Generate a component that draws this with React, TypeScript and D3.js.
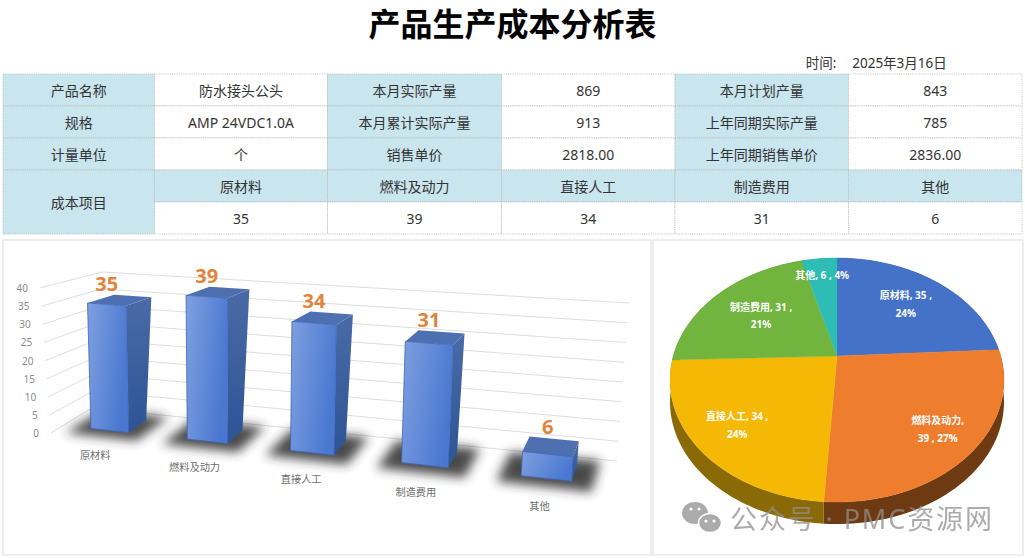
import React, { useEffect, useRef } from "react";
import * as d3 from "d3";

// table content
const infoRows = [
  ["产品名称", "防水接头公头", "本月实际产量", "869", "本月计划产量", "843"],
  ["规格", "AMP 24VDC1.0A", "本月累计实际产量", "913", "上年同期实际产量", "785"],
  ["计量单位", "个", "销售单价", "2818.00", "上年同期销售单价", "2836.00"],
];
const costHeader = "成本项目";

// chart data
const categories = ["原材料", "燃料及动力", "直接人工", "制造费用", "其他"];
const costs = [35, 39, 34, 31, 6];
const percentLabels = ["24%", "27%", "24%", "21%", "4%"];
const yTicks = [0, 5, 10, 15, 20, 25, 30, 35, 40];
const pieColors = ["#4472C8", "#EE7D2E", "#F5B905", "#71B53F", "#2DBDB4"];
const pieSideColors = ["#2A4578", "#6E3A12", "#8A6A06", "#44702A", "#1C756F"];

// pie label layout: radius (fraction of rim) and where each label wraps
const pieLabelRadius = [0.67, 0.78, 0.76, 0.62, 0.81];
const pieLabelLines = (i: number) => {
  const name = categories[i];
  const v = costs[i];
  const pct = percentLabels[i];
  if (i === 1) return [`${name},`, `${v} , ${pct}`];
  if (i === 4) return [`${name}, ${v} , ${pct}`];
  return [`${name}, ${v} ,`, pct];
};

const FONT = '"Noto Sans", "Noto Sans CJK SC", sans-serif';
const W = 1025;
const H = 558;
const colEdges = [3, 154.5, 327.5, 501.5, 675, 848.5, 1022];
const CELL_BLUE = "#C9E5EE";

type Pt = [number, number];
const lerp = (a: Pt, b: Pt, t: number): Pt => [a[0] + (b[0] - a[0]) * t, a[1] + (b[1] - a[1]) * t];

// the 3D box of the bar chart, as eight projected corners
const FL0: Pt = [51, 433];
const FR0: Pt = [608, 496];
const BL0: Pt = [92, 408];
const BR0: Pt = [617, 461];
const FL40: Pt = [40, 288];
const FR40: Pt = [618, 328];
const BL40: Pt = [102, 272];
const BR40: Pt = [629, 303];
const PERSPECTIVE = 1.2;

const vScale = d3.scaleLinear().domain([0, 40]).range([0, 1]);
const project = (u: number, d: number, v: number): Pt => {
  const t = u / (u + PERSPECTIVE * (1 - u));
  const bottom = lerp(lerp(FL0, FR0, t), lerp(BL0, BR0, t), d);
  const top = lerp(lerp(FL40, FR40, t), lerp(BL40, BR40, t), d);
  return lerp(bottom, top, vScale(v));
};

// pie disc seen in perspective
const PIE_CX = 837;
const PIE_CY = 356;
const PIE_A = 163.7;
const PIE_B = 117.3;
const PIE_P = 0.197;
const PIE_DEPTH = 22;
const piePoint = (theta: number, r = 1): Pt => {
  const X = Math.sin(theta) * r;
  const Y = -Math.cos(theta) * r;
  const w = 1 - PIE_P * Y;
  return [PIE_CX + (PIE_A * X) / w, PIE_CY + (PIE_B * Y) / w];
};
const rim = (a0: number, a1: number) =>
  d3.range(0, 61).map((i) => piePoint(a0 + ((a1 - a0) * i) / 60));

export default function App() {
  const svgRef = useRef<SVGSVGElement>(null);

  useEffect(() => {
    if (!svgRef.current) return;
    const svg = d3.select(svgRef.current);
    svg.selectAll("*").remove();
    svg.style("font-family", FONT);

    const defs = svg.append("defs");
    const grad = (id: string, x2: number, y2: number, c0: string, c1: string) => {
      const g = defs.append("linearGradient").attr("id", id).attr("x1", 0).attr("y1", 0).attr("x2", x2).attr("y2", y2);
      g.append("stop").attr("offset", "0%").attr("stop-color", c0);
      g.append("stop").attr("offset", "100%").attr("stop-color", c1);
    };
    grad("barFront", 1, 0.35, "#7FA0E0", "#4A78D0");
    grad("barSide", 0, 1, "#4A6AA6", "#2D5496");
    defs.append("filter").attr("id", "soft").attr("x", "-50%").attr("y", "-80%").attr("width", "200%").attr("height", "260%")
      .append("feGaussianBlur").attr("stdDeviation", 5.5);

    svg.append("rect").attr("width", W).attr("height", H).attr("fill", "#fff");

    // title and date
    svg.append("text").attr("x", 512.5).attr("y", 23).attr("text-anchor", "middle").attr("dominant-baseline", "central")
      .attr("font-size", 32).attr("font-weight", 700).attr("fill", "#000").text("产品生产成本分析表");
    svg.append("text").attr("x", 821).attr("y", 63).attr("text-anchor", "middle").attr("dominant-baseline", "central")
      .attr("font-size", 13.5).attr("fill", "#333").text("时间:");
    svg.append("text").attr("x", 899.5).attr("y", 63).attr("text-anchor", "middle").attr("dominant-baseline", "central")
      .attr("font-size", 13.5).attr("fill", "#333").text("2025年3月16日");

    // table
    const rowY = d3.scaleLinear().domain([0, 5]).range([74, 234]);
    const table = svg.append("g");
    const cell = (c0: number, c1: number, r0: number, r1: number, text: string, fill: string) => {
      const x0 = colEdges[c0];
      const x1 = colEdges[c1];
      const y0 = rowY(r0);
      const y1 = rowY(r1);
      table.append("rect").attr("x", x0).attr("y", y0).attr("width", x1 - x0).attr("height", y1 - y0)
        .attr("fill", fill).attr("stroke", "#b4b4b4").attr("stroke-width", 0.8).attr("stroke-dasharray", "1 1.2");
      table.append("text").attr("x", (x0 + x1) / 2).attr("y", (y0 + y1) / 2).attr("text-anchor", "middle")
        .attr("dominant-baseline", "central").attr("font-size", 14).attr("fill", "#333").text(text);
    };
    infoRows.forEach((row, r) => {
      row.forEach((text, c) => cell(c, c + 1, r, r + 1, text, c % 2 === 0 ? CELL_BLUE : "#fff"));
    });
    cell(0, 1, 3, 5, costHeader, CELL_BLUE);
    categories.forEach((name, i) => {
      cell(i + 1, i + 2, 3, 4, name, CELL_BLUE);
      cell(i + 1, i + 2, 4, 5, String(costs[i]), "#fff");
    });

    // panels
    [[3, 651], [653, 1023]].forEach(([x0, x1]) => {
      svg.append("rect").attr("x", x0).attr("y", 240).attr("width", x1 - x0).attr("height", 315)
        .attr("fill", "#fff").attr("stroke", "#dcdcdc").attr("stroke-width", 1);
    });

    // ---- 3D bars ----
    const bars = svg.append("g");
    const poly = (pts: Pt[]) => pts.map((p) => p.join(",")).join(" ");

    yTicks.forEach((v) => {
      const pts = [project(0, 0, v), project(0, 1, v), project(1, 1, v)];
      bars.append("polyline").attr("points", poly(pts)).attr("fill", "none").attr("stroke", "#dedede").attr("stroke-width", 1);
      bars.append("text").attr("x", pts[0][0] - 12).attr("y", pts[0][1]).attr("text-anchor", "end")
        .attr("dominant-baseline", "central").attr("font-size", 10).attr("fill", "#8c8c8c").text(v);
    });

    const band = d3.scaleBand<string>().domain(categories).range([0, 1]).paddingInner(0.6).paddingOuter(0.3);
    const D_FRONT = 0.3;
    const D_BACK = 0.77;

    // floor shadows first, so no bar is covered by a neighbour's shadow
    categories.forEach((name) => {
      const u0 = band(name)! - 0.034;
      const u1 = band(name)! + band.bandwidth() + 0.034;
      bars.append("polygon")
        .attr("points", poly([project(u0, 0.06, 0), project(u1, 0.06, 0), project(u1, 0.95, 0), project(u0, 0.95, 0)]))
        .attr("fill", "#2a2a2a").attr("opacity", 0.85).attr("filter", "url(#soft)");
    });

    categories.forEach((name, i) => {
      const v = costs[i];
      const u0 = band(name)!;
      const u1 = u0 + band.bandwidth();
      const g = bars.append("g");
      g.append("polygon")
        .attr("points", poly([project(u1, D_FRONT, 0), project(u1, D_BACK, 0), project(u1, D_BACK, v), project(u1, D_FRONT, v)]))
        .attr("fill", "url(#barSide)");
      g.append("polygon")
        .attr("points", poly([project(u0, D_FRONT, v), project(u1, D_FRONT, v), project(u1, D_BACK, v), project(u0, D_BACK, v)]))
        .attr("fill", "#4F70B0");
      g.append("polygon")
        .attr("points", poly([project(u0, D_FRONT, 0), project(u1, D_FRONT, 0), project(u1, D_FRONT, v), project(u0, D_FRONT, v)]))
        .attr("fill", "url(#barFront)").attr("stroke", "#3D66B8").attr("stroke-width", 0.8);

      const uc = (u0 + u1) / 2;
      const labelX = project(uc, D_FRONT, v)[0];
      const labelY = project(uc, D_BACK, v)[1] - 5;
      g.append("text").attr("x", labelX).attr("y", labelY).attr("text-anchor", "middle")
        .attr("font-size", 20).attr("font-weight", 700).attr("fill", "#E0843C").text(v);

      const foot = project(uc, 0, 0);
      g.append("text").attr("x", foot[0] - 3).attr("y", foot[1] + 17).attr("text-anchor", "middle")
        .attr("dominant-baseline", "central").attr("font-size", 10.2).attr("fill", "#6e6e6e").text(name);
    });

    // ---- 3D pie ----
    const pie = svg.append("g");
    const line = d3.line<Pt>();
    const slices = d3.pie<number>().sort(null).value((d) => d)(costs);

    slices.forEach((s, i) => {
      const top = rim(s.startAngle, s.endAngle);
      const below = top.map(([x, y]): Pt => [x, y + PIE_DEPTH]).reverse();
      pie.append("path").attr("d", line([...top, ...below])! + "Z").attr("fill", pieSideColors[i]);
    });
    slices.forEach((s, i) => {
      pie.append("path").attr("d", line([[PIE_CX, PIE_CY], ...rim(s.startAngle, s.endAngle)])! + "Z")
        .attr("fill", pieColors[i]).attr("stroke", pieColors[i]).attr("stroke-width", 0.4);
    });
    slices.forEach((s, i) => {
      const [x, y] = piePoint((s.startAngle + s.endAngle) / 2, pieLabelRadius[i]);
      const lines = pieLabelLines(i);
      lines.forEach((txt, j) => {
        pie.append("text").attr("x", x).attr("y", y + (j - (lines.length - 1) / 2) * 17.5).attr("text-anchor", "middle")
          .attr("dominant-baseline", "central").attr("font-size", 10).attr("font-weight", 700).attr("fill", "#fff").text(txt);
      });
    });

    // ---- watermark ----
    const mark = svg.append("g").attr("fill", "#8f8f8f").attr("opacity", 0.75);
    mark.append("ellipse").attr("cx", 695).attr("cy", 513).attr("rx", 13).attr("ry", 11);
    mark.append("ellipse").attr("cx", 710).attr("cy", 523).attr("rx", 11.5).attr("ry", 9.5).attr("stroke", "#fff").attr("stroke-width", 1.5);
    [[691, 509], [699, 509], [706, 521], [714, 521]].forEach(([cx, cy]) => {
      mark.append("circle").attr("cx", cx).attr("cy", cy).attr("r", 1.6).attr("fill", "#fff");
    });
    mark.append("text").attr("x", 730).attr("y", 518).attr("dominant-baseline", "central").attr("font-size", 27)
      .attr("textLength", 262).text("公众号 · PMC资源网");
  }, []);

  return <svg ref={svgRef} width={W} height={H} style={{ position: "fixed", left: 0, top: 0, display: "block" }} />;
}
